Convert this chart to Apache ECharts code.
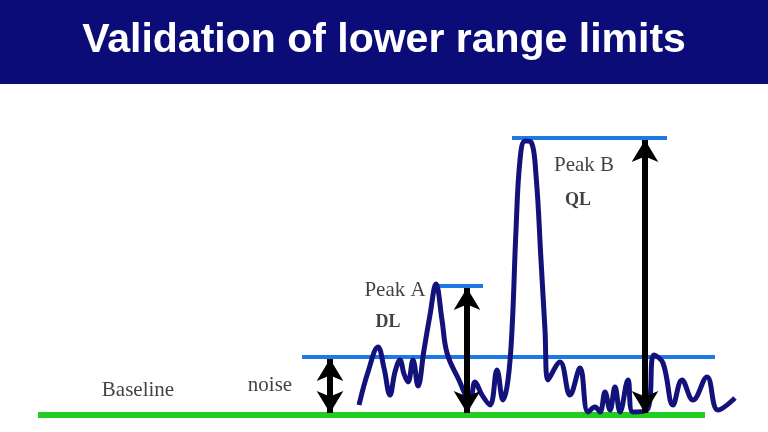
<!DOCTYPE html><html><head><meta charset="utf-8"><script src="https://cdn.jsdelivr.net/npm/echarts@6/dist/echarts.min.js"></script>
<style>html,body{margin:0;background:#fff}#c{width:768px;height:432px}</style></head><body><div id="c"></div><script>
const signal=[[359,405],[368,372],[378,347],[384,368],[390,395],[395,372],[400,360],[404,374],[408,382],[413,360],[418,386],[424,350],[430,315],[436,284],[442,320],[447,353],[458,378],[470,400],[475,382],[482,395],[490,405],[497,370],[503,400],[508,380],[512,330],[516,230],[520,160],[525,141],[531,142],[536,175],[541,260],[545,330],[548,380],[560,362],[570,395],[580,368],[588,412],[595,407],[600,412],[605,392],[610,410],[615,387],[620,412],[628,380],[633,412],[647,410],[654,355],[663,363],[673,405],[682,380],[693,400],[707,377],[718,410],[735,398]];
const hlines=[{y:415,x1:38,x2:705,c:'#22cc22'},{y:357,x1:302,x2:715,c:'#1e78e6'},{y:286,x1:435,x2:483,c:'#1e78e6'},{y:138,x1:512,x2:667,c:'#1e78e6'}];
const arrows=[[330,359,413],[467,288,413],[645,140,413]];
const labels=[['Baseline',138,390,false],['noise',270,385,false],['Peak A',395,290,false],['DL',388,322,true],['Peak B',584,165,false],['QL',578,200,true]];
const series=[];
hlines.forEach(h=>series.push({type:'line',data:[[h.x1,h.y],[h.x2,h.y]],symbol:'none',lineStyle:{color:h.c,width:h.c==='#22cc22'?6:4},z:1}));
series.push({type:'line',data:signal,smooth:0.4,symbol:'none',lineStyle:{color:'#12127a',width:5},z:3});
series.push({type:'line',data:[],markLine:{silent:true,symbol:['arrow','arrow'],symbolSize:[20,22],lineStyle:{color:'#000',width:6,type:'solid'},label:{show:false},
 data:arrows.map(a=>[{coord:[a[0],a[1]]},{coord:[a[0],a[2]]}])},z:5});
series.push({type:'scatter',symbolSize:0,data:labels.map(l=>({value:[l[1],l[2]],label:{show:true,formatter:l[0],position:'inside',fontFamily:'Liberation Serif',fontSize:l[3]?18:21,fontWeight:l[3]?'bold':'normal',color:'#111'}}))});
const ch=echarts.init(document.getElementById('c'));
ch.setOption({animation:false,
 graphic:[{type:'rect',shape:{x:0,y:0,width:768,height:84},style:{fill:'#0c0c78'}}],
 title:{text:'Validation of lower range limits',left:'center',top:15,textStyle:{color:'#fff',fontSize:41,fontWeight:'bold',fontFamily:'Liberation Sans'}},
 grid:{left:0,right:0,top:0,bottom:0},
 xAxis:{type:'value',min:0,max:768,show:false},
 yAxis:{type:'value',min:0,max:432,inverse:true,show:false},
 series});
</script></body></html>
